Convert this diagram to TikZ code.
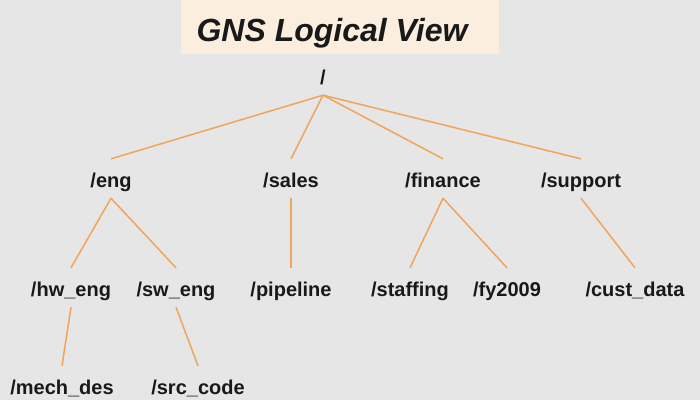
\documentclass[tikz,border=0pt]{standalone}
\usepackage{fontspec}
\setmainfont{Liberation Sans}
\definecolor{bgray}{HTML}{E6E6E6}
\definecolor{titlebg}{HTML}{FCEEDF}
\definecolor{linkc}{HTML}{F0A45C}
\tikzset{
 dir/.style={inner sep=0, text height=28, text depth=11, font=\bfseries\fontsize{20}{22}\selectfont, text=black!90, anchor=base},
 link/.style={linkc, line width=1.5pt}
}
\begin{document}
\begin{tikzpicture} [x=1pt, y=-1pt]
\useasboundingbox[fill=bgray] (0,0) rectangle (700,400);
\fill[titlebg] (181,0) rectangle (499,54);
\node[inner sep=0, anchor=base, font=\bfseries\itshape\fontsize{32}{36}\selectfont, text=black!90] (title) at (332,41) {GNS Logical View};

\node[dir] (root) at (323,84) {/};
\node[dir] (eng) at (111,187) {/eng};
\node[dir] (sales) at (291,187) {/sales};
\node[dir] (finance) at (443,187) {/finance};
\node[dir] (support) at (581,187) {/support};

\node[dir] (hweng) at (71,296) {/hw\_eng};
\node[dir] (sweng) at (176,296) {/sw\_eng};
\node[dir] (pipeline) at (291,296) {/pipeline};
\node[dir] (staffing) at (410,296) {/staffing};
\node[dir] (fy) at (507,296) {/fy2009};
\node[dir] (custdata) at (635,296) {/cust\_data};

\node[dir] (mechdes) at (62,394) {/mech\_des};
\node[dir] (srccode) at (198,394) {/src\_code};

\draw[link] (root.south)--(eng.north);
\draw[link] (root.south)--(sales.north);
\draw[link] (root.south)--(finance.north);
\draw[link] (root.south)--(support.north);
\draw[link] (eng.south)--(hweng.north);
\draw[link] (eng.south)--(sweng.north);
\draw[link] (sales.south)--(pipeline.north);
\draw[link] (finance.south)--(staffing.north);
\draw[link] (finance.south)--(fy.north);
\draw[link] (support.south)--(custdata.north);
\draw[link] (hweng.south)--(mechdes.north);
\draw[link] (sweng.south)--(srccode.north);
\end{tikzpicture}
\end{document}
